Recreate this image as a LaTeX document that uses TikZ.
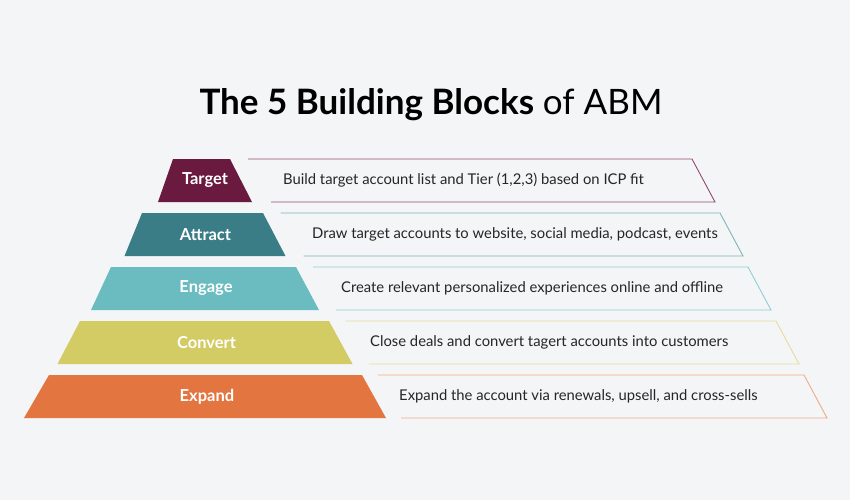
\documentclass[tikz,border=0pt]{standalone}
\usepackage{fontspec}
\setmainfont{Lato}
\begin{document}
\begin{tikzpicture}[x=1pt,y=-1pt,
 lab/.style={text=white,font=\fontsize{16.5}{19}\selectfont\bfseries},
 desc/.style={text=black!85,anchor=west,font=\fontsize{14.8}{18}\selectfont}]
\definecolor{bg}{HTML}{F4F5F7}
\fill[bg] (0,0) rectangle (850,500);
\useasboundingbox (0,0) rectangle (850,500);
\node (title) at (431,105) {\fontsize{35}{40}\selectfont\textbf{The 5 Building Blocks} of ABM};
\foreach \i/\nm/\txt/\col/\lc in {
 0/Target/{Build target account list and Tier (1,2,3) based on ICP fit}/6a1a3e/8e4a6a,
 1/Attract/{Draw target accounts to website, social media, podcast, events}/3a7d87/7fb4bb,
 2/Engage/{Create relevant personalized experiences online and offline}/6bbcc0/8fcfd3,
 3/Convert/{Close deals and convert tagert accounts into customers}/d3cb64/e3dd9a,
 4/Expand/{Expand the account via renewals, upsell, and cross-sells}/e37540/f0aa88}{
 \definecolor{c\i}{HTML}{\col}\definecolor{l\i}{HTML}{\lc}
 \pgfmathsetmacro\yt{159+54*\i}\pgfmathsetmacro\yb{\yt+43}
 \fill[c\i] ({173-31*\i},\yt) -- ({230+33*\i},\yt) -- ({252+33.5*\i},\yb) -- ({158-33.5*\i},\yb) -- cycle;
 \node[lab] (p\i) at ({205+0.5*\i},{\yt+21.5}) {\nm};
 \draw[l\i,line width=0.9pt] ({248+32.5*\i},\yt) -- ({692+28*\i},\yt) -- ({715+28*\i},\yb) -- ({271+32.5*\i},\yb);
 \node[desc,inner sep=0pt] (d\i) at ({283+29*\i},{\yt+21.5}) {\txt};
}
\end{tikzpicture}
\end{document}
